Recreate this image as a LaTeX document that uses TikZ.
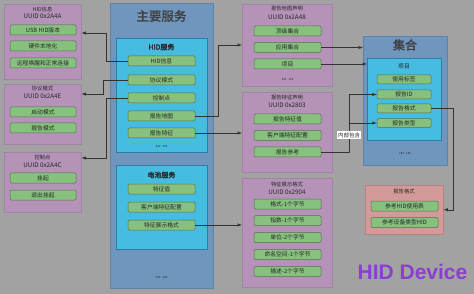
\documentclass[tikz,border=0pt]{standalone}
\usepackage{fontspec}
\setmainfont{Noto Sans CJK SC}[AutoFakeBold=2]
\newfontfamily\devfont{Liberation Sans}
\usetikzlibrary{arrows.meta}

\definecolor{bggray}{HTML}{A2A2A2}
\definecolor{purplefill}{HTML}{B593B8}
\definecolor{purpleline}{HTML}{A282A6}
\definecolor{greenfill}{HTML}{86C27E}
\definecolor{greenline}{HTML}{56704F}
\definecolor{bluefill}{HTML}{7096BE}
\definecolor{blueline}{HTML}{5C83AC}
\definecolor{cyanfill}{HTML}{45BCE0}
\definecolor{cyanline}{HTML}{2B7FA6}
\definecolor{pinkfill}{HTML}{D49A9A}
\definecolor{pinkline}{HTML}{B88080}
\definecolor{devpurple}{HTML}{8B3FD1}
\definecolor{linegray}{HTML}{333333}

\begin{document}
\begin{tikzpicture}[x=1pt, y=-1pt,
    every node/.style={inner sep=0pt, text=black!85},
    purplebox/.style={draw=purpleline, fill=purplefill, line width=0.5pt, anchor=north west},
    bluebox/.style={draw=blueline, fill=bluefill, line width=0.6pt, anchor=north west},
    cyanbox/.style={draw=cyanline, fill=cyanfill, line width=0.6pt, anchor=north west},
    pinkbox/.style={draw=pinkline, fill=pinkfill, line width=0.5pt, anchor=north west},
    greenbox/.style={draw=greenline, fill=greenfill, line width=0.5pt, rounded corners=1.2pt,
        minimum width=#1, minimum height=10pt, font=\fontsize{5.8}{6}\selectfont},
    greenbox/.default=67pt,
    title/.style={font=\fontsize{5.3}{6}\selectfont},
    uuid/.style={font=\fontsize{6.3}{7}\selectfont},
    bigtitle/.style={font=\bfseries\fontsize{12.5}{13}\selectfont, text=black!75},
    midtitle/.style={font=\bfseries\fontsize{7}{8}\selectfont},
    dots/.style={font=\bfseries\fontsize{6}{6}\selectfont},
    link/.style={draw=linegray, line width=0.5pt, -latex},
    plain/.style={draw=linegray, line width=0.5pt},
    tagbox/.style={fill=white, inner sep=1pt, font=\fontsize{5.5}{6}\selectfont}]

    \fill[bggray] (0,0) rectangle (474,294);

    % left column
    \node[purplebox, minimum width=77pt, minimum height=75pt] (infobox) at (4,4) {};
    \node[title] (infotitle) at (42.5,9) {HID信息};
    \node[uuid] (infouuid) at (42.5,16.5) {UUID 0x2A4A};
    \node[greenbox=66pt] (usbver) at (43,30) {USB HID版本};
    \node[greenbox=66pt] (hwlocal) at (43,46) {硬件本地化};
    \node[greenbox=66pt] (wake) at (43,63) {远程唤醒和正常连接};

    \node[purplebox, minimum width=77pt, minimum height=60pt] (protobox) at (4,84) {};
    \node[title] (prototitle) at (42.5,89) {协议模式};
    \node[uuid] (protouuid) at (42.5,96.5) {UUID 0x2A4E};
    \node[greenbox=66pt] (bootmode) at (43,112) {启动模式};
    \node[greenbox=66pt] (repmode) at (43,128) {报告模式};

    \node[purplebox, minimum width=77pt, minimum height=60pt] (ctrlbox) at (4,152) {};
    \node[title] (ctrltitle) at (42.5,157) {控制点};
    \node[uuid] (ctrluuid) at (42.5,165) {UUID 0x2A4C};
    \node[greenbox=66pt] (suspend) at (43,178) {挂起};
    \node[greenbox=66pt] (resume) at (43,195) {退出挂起};

    % main services
    \node[bluebox, minimum width=103pt, minimum height=285pt] (mainbox) at (110,3) {};
    \node[bigtitle] (maintitle) at (161.5,16) {主要服务};
    \node[cyanbox, minimum width=91pt, minimum height=114pt] (hidbox) at (116,38) {};
    \node[midtitle] (hidtitle) at (161.5,47) {HID服务};
    \node[greenbox] (mhidinfo) at (161.5,61) {HID信息};
    \node[greenbox] (mproto) at (161.5,80) {协议模式};
    \node[greenbox] (mctrl) at (161.5,98) {控制点};
    \node[greenbox] (mmap) at (161.5,116) {报告地图};
    \node[greenbox] (mreport) at (161.5,133) {报告特征};
    \node[dots] (hiddots) at (161.5,146) {... ...};

    \node[cyanbox, minimum width=91pt, minimum height=84pt] (batbox) at (116,165) {};
    \node[midtitle] (battitle) at (161.5,175) {电池服务};
    \node[greenbox] (bvalue) at (161.5,189) {特征值};
    \node[greenbox] (bconfig) at (161.5,207) {客户端特征配置};
    \node[greenbox] (bformat) at (161.5,225) {特征展示格式};
    \node[dots] (maindots) at (161.5,277) {... ...};

    % middle column
    \node[purplebox, minimum width=90pt, minimum height=82pt] (mapbox) at (242,4) {};
    \node[title] (maptitle) at (287,9) {报告地图声明};
    \node[uuid] (mapuuid) at (287,17) {UUID 0x2A48};
    \node[greenbox] (topcoll) at (287.5,31) {顶级集合};
    \node[greenbox] (appcoll) at (287.5,47.5) {应用集合};
    \node[greenbox] (item) at (287.5,64) {项目};
    \node[dots] (mapdots) at (287.5,79) {... ...};

    \node[purplebox, minimum width=90pt, minimum height=80pt] (reportbox) at (242,92) {};
    \node[title] (reporttitle) at (287,97.5) {报告特征声明};
    \node[uuid] (reportuuid) at (287,105) {UUID 0x2803};
    \node[greenbox] (rvalue) at (287.5,119) {报告特征值};
    \node[greenbox] (rconfig) at (287.5,135.5) {客户端特征配置};
    \node[greenbox] (rref) at (287.5,152) {报告参考};

    \node[purplebox, minimum width=90pt, minimum height=109pt] (fmtbox) at (242,178) {};
    \node[title] (fmttitle) at (287,184) {特征展示格式};
    \node[uuid] (fmtuuid) at (287,192) {UUID 0x2904};
    \node[greenbox] (fformat) at (287.5,204) {格式-1个字节};
    \node[greenbox] (fexp) at (287.5,220.5) {指数-1个字节};
    \node[greenbox] (funit) at (287.5,237.5) {单位-2个字节};
    \node[greenbox] (fspace) at (287.5,254.5) {命名空间-1个字节};
    \node[greenbox] (fdesc) at (287.5,271.5) {描述-2个字节};

    % right column
    \node[bluebox, minimum width=84pt, minimum height=129pt] (collbox) at (363,36) {};
    \node[bigtitle, font=\bfseries\fontsize{12}{12}\selectfont] (colltitle) at (405,45) {集合};
    \node[cyanbox, minimum width=74pt, minimum height=82pt] (itembox) at (367,58) {};
    \node[title, font=\fontsize{5.8}{6}\selectfont] (itemtitle) at (404,66.5) {项目};
    \node[greenbox=54pt, minimum height=9pt] (usage) at (404,79.5) {使用标签};
    \node[greenbox=54pt, minimum height=9pt] (rid) at (404,94.5) {报告ID};
    \node[greenbox=54pt, minimum height=9pt] (rfmt) at (404,108.5) {报告格式};
    \node[greenbox=54pt, minimum height=9pt] (rtype) at (404,123) {报告类型};
    \node[dots] (colldots) at (405,153) {... ...};

    \node[pinkbox, minimum width=78pt, minimum height=49pt] (fmtref) at (365,185) {};
    \node[title] (fmtreftitle) at (404,192) {报告格式};
    \node[greenbox] (usagetab) at (404.5,206) {参考HID使用表};
    \node[greenbox] (devtype) at (404.5,222.5) {参考设备类型HID};

    \node[font=\devfont\bfseries\fontsize{21}{21}\selectfont, text=devpurple] (devlabel) at (412.5,271.5) {HID Device};

    % connectors
    \draw[link] (mhidinfo.west) -- ++(-22,0) |- ([yshift=-29pt]infobox.north east);
    \draw[link] (mproto.west) -- ++(-25,0) |- ([yshift=-10pt]protobox.north east);
    \draw[link] (mctrl.west) -- ++(-22,0) |- ([yshift=-6pt]ctrlbox.north east);
    \draw[link] (mmap.east) -- ++(23,0) |- ([yshift=-41pt]mapbox.north west);
    \draw[link] (mreport.east) -- (reportbox.west |- mreport.east);
    \draw[link] (bformat.east) -- (fmtbox.west |- bformat.east);
    \draw[link] (appcoll.east) -- (collbox.west |- appcoll.east);
    \draw[link] (item.east) -- (itembox.west |- item.east);

    \node[tagbox] (inner) at (349,135) {内部包含};
    \draw[plain] (rref.east) -| (inner.south);
    \draw[link] (inner.north) |- (rid.west);
    \draw[link] (inner.north) |- (rtype.west);
    \draw[link] (rfmt.east) -- ++(22,0) |- (fmtref.east);
\end{tikzpicture}
\end{document}
